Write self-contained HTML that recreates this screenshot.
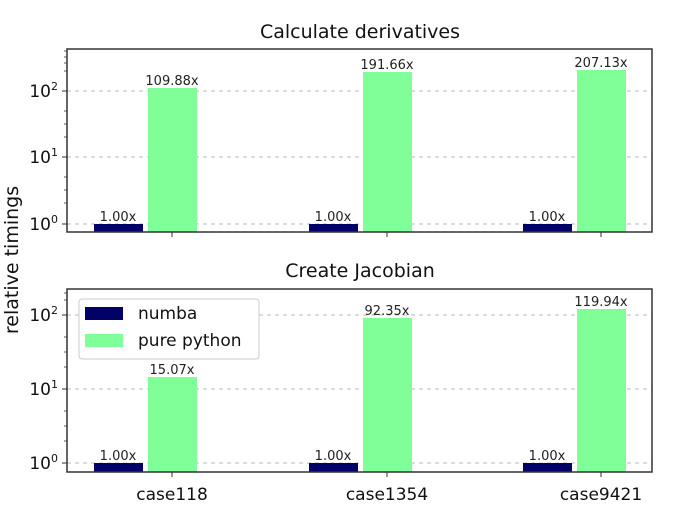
<!DOCTYPE html>
<html><head><meta charset="utf-8"><style>
body{margin:0;background:#fff}
svg{display:block;font-family:"DejaVu Sans","Liberation Sans",sans-serif}
</style></head><body>
<svg width="677" height="524" viewBox="0 0 677 524">
<rect width="677" height="524" fill="#fff"/>
<!-- Top panel -->
<g>
<text x="360" y="38" font-size="19" text-anchor="middle" fill="#111">Calculate derivatives</text>
<g stroke="#bbb" stroke-dasharray="4,4" stroke-width="1">
<line x1="67" x2="652" y1="91" y2="91"/><line x1="67" x2="652" y1="157" y2="157"/><line x1="67" x2="652" y1="224" y2="224"/>
</g>
<g fill="#000066">
<rect x="94" y="224" width="49" height="8"/><rect x="309" y="224" width="49" height="8"/><rect x="523" y="224" width="49" height="8"/>
</g>
<g fill="#80ff99">
<rect x="148" y="88" width="49" height="144"/><rect x="363" y="72" width="49" height="160"/><rect x="577" y="70" width="49" height="162"/>
</g>
<g font-size="13" text-anchor="middle" fill="#222">
<text x="118" y="221">1.00x</text><text x="333" y="221">1.00x</text><text x="547" y="221">1.00x</text>
<text x="172" y="85">109.88x</text><text x="387" y="69">191.66x</text><text x="601" y="67">207.13x</text>
</g>
<rect x="67" y="49" width="585" height="183" fill="none" stroke="#333" stroke-width="1.5"/>
<g stroke="#333"><line x1="172" x2="172" y1="232" y2="237"/><line x1="387" x2="387" y1="232" y2="237"/><line x1="601" x2="601" y1="232" y2="237"/>
<line x1="62" x2="67" y1="91" y2="91"/><line x1="62" x2="67" y1="157" y2="157"/><line x1="62" x2="67" y1="224" y2="224"/></g>
<g stroke="#333" stroke-width="0.8">
<line x1="64" x2="67" y1="71" y2="71"/><line x1="64" x2="67" y1="63" y2="63"/><line x1="64" x2="67" y1="57" y2="57"/><line x1="64" x2="67" y1="51" y2="51"/><line x1="64" x2="67" y1="111" y2="111"/><line x1="64" x2="67" y1="124" y2="124"/><line x1="64" x2="67" y1="137" y2="137"/><line x1="64" x2="67" y1="177" y2="177"/><line x1="64" x2="67" y1="190" y2="190"/><line x1="64" x2="67" y1="203" y2="203"/>
</g>
<g font-size="17" text-anchor="end" fill="#111">
<text x="58" y="97">10<tspan font-size="11" dy="-7">2</tspan></text>
<text x="58" y="163">10<tspan font-size="11" dy="-7">1</tspan></text>
<text x="58" y="230">10<tspan font-size="11" dy="-7">0</tspan></text>
</g>
</g>
<!-- Bottom panel -->
<g>
<text x="360" y="277" font-size="19" text-anchor="middle" fill="#111">Create Jacobian</text>
<g stroke="#bbb" stroke-dasharray="4,4" stroke-width="1">
<line x1="67" x2="652" y1="315" y2="315"/><line x1="67" x2="652" y1="389" y2="389"/><line x1="67" x2="652" y1="463" y2="463"/>
</g>
<g fill="#000066">
<rect x="94" y="463" width="49" height="9"/><rect x="309" y="463" width="49" height="9"/><rect x="523" y="463" width="49" height="9"/>
</g>
<g fill="#80ff99">
<rect x="148" y="377" width="49" height="95"/><rect x="363" y="318" width="49" height="154"/><rect x="577" y="309" width="49" height="163"/>
</g>
<g font-size="13" text-anchor="middle" fill="#222">
<text x="118" y="460">1.00x</text><text x="333" y="460">1.00x</text><text x="547" y="460">1.00x</text>
<text x="172" y="374">15.07x</text><text x="387" y="315">92.35x</text><text x="601" y="306">119.94x</text>
</g>
<rect x="67" y="289" width="585" height="183" fill="none" stroke="#333" stroke-width="1.5"/>
<g stroke="#333"><line x1="172" x2="172" y1="472" y2="477"/><line x1="387" x2="387" y1="472" y2="477"/><line x1="601" x2="601" y1="472" y2="477"/>
<line x1="62" x2="67" y1="315" y2="315"/><line x1="62" x2="67" y1="389" y2="389"/><line x1="62" x2="67" y1="463" y2="463"/></g>
<g stroke="#333" stroke-width="0.8">
<line x1="64" x2="67" y1="293" y2="293"/><line x1="64" x2="67" y1="300" y2="300"/><line x1="64" x2="67" y1="337" y2="337"/><line x1="64" x2="67" y1="352" y2="352"/><line x1="64" x2="67" y1="367" y2="367"/><line x1="64" x2="67" y1="411" y2="411"/><line x1="64" x2="67" y1="426" y2="426"/><line x1="64" x2="67" y1="441" y2="441"/>
</g>
<g font-size="17" text-anchor="end" fill="#111">
<text x="58" y="321">10<tspan font-size="11" dy="-7">2</tspan></text>
<text x="58" y="395">10<tspan font-size="11" dy="-7">1</tspan></text>
<text x="58" y="469">10<tspan font-size="11" dy="-7">0</tspan></text>
</g>
<g font-size="17" text-anchor="middle" fill="#111">
<text x="172" y="500">case118</text><text x="387" y="500">case1354</text><text x="601" y="500">case9421</text>
</g>
<rect x="79" y="299" width="180" height="60" rx="3" fill="#fff" fill-opacity="0.9" stroke="#ccc"/>
<rect x="85" y="307" width="38" height="13" fill="#000066"/>
<rect x="85" y="334" width="38" height="13" fill="#80ff99"/>
<text x="138" y="319" font-size="17" fill="#111">numba</text>
<text x="138" y="346" font-size="17" fill="#111">pure python</text>
</g>
<text transform="translate(18,260) rotate(-90)" font-size="19" text-anchor="middle" fill="#111">relative timings</text>
</svg>
</body></html>
